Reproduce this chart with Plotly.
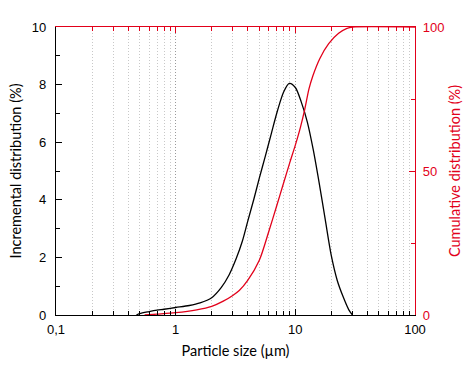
import plotly.graph_objects as go

# Incremental distribution (%) vs particle size (µm)
size_inc = [0.47, 0.5, 0.6, 0.7, 0.8, 1.0, 1.3, 1.6, 2.0, 2.4, 2.8, 3.2, 3.6, 4.0, 4.5,
            5.0, 5.6, 6.3, 7.1, 8.0, 8.9, 10.0, 11.2, 12.6, 14.1, 15.8, 17.8, 20.0,
            22.4, 25.0, 28.0, 30.0]
incremental = [0.0, 0.05, 0.12, 0.17, 0.2, 0.26, 0.33, 0.42, 0.6, 0.95, 1.4, 1.95, 2.55, 3.25, 4.02,
               4.75, 5.5, 6.3, 7.1, 7.75, 8.04, 7.9, 7.4, 6.7, 5.75, 4.6, 3.3, 2.05,
               1.2, 0.65, 0.18, 0.0]

# Cumulative distribution (%) vs particle size (µm)
size_cum = [0.55, 0.7, 1.0, 1.5, 2.0, 2.5, 3.0, 3.4, 4.0, 5.0, 6.0, 7.0, 8.0, 9.0, 10.0,
            11.0, 12.0, 13.0, 14.0, 16.0, 19.0, 23.0, 27.0, 30.0, 100.0]
cumulative = [0.0, 0.3, 0.8, 1.8, 3.0, 4.8, 6.8, 8.5, 12.0, 19.0, 29.0, 38.0, 46.0, 53.0, 59.0,
              65.0, 71.5, 78.5, 83.0, 89.0, 94.2, 97.8, 99.5, 100.0, 100.0]

x_tickvals = [0.1, 1, 10, 100]
x_ticktext = ["0,1", "1", "10", "100"]
x_minor = [0.2, 0.3, 0.4, 0.5, 0.6, 0.7, 0.8, 0.9,
           2, 3, 4, 5, 6, 7, 8, 9,
           20, 30, 40, 50, 60, 70, 80, 90]
y_tickvals = [0, 2, 4, 6, 8, 10]
y_minor = [1, 3, 5, 7, 9]
y2_tickvals = [0, 50, 100]
y2_minor = [25, 75]

RED = "#e2001a"
TICKFONT = dict(family="Liberation Sans, Arial", size=13, color="black")
TITLEFONT = dict(family="Lato, Open Sans", size=14.5, color="black")

fig = go.Figure()
fig.add_trace(go.Scatter(x=size_inc, y=incremental, mode="lines",
                         line=dict(color="black", width=1.3, shape="spline", smoothing=0.8),
                         xaxis="x", yaxis="y", showlegend=False))
fig.add_trace(go.Scatter(x=size_cum, y=cumulative, mode="lines",
                         line=dict(color=RED, width=1.3, shape="spline", smoothing=0.8),
                         xaxis="x2", yaxis="y2", showlegend=False))

fig.update_layout(
    width=474, height=372,
    margin=dict(l=56, r=59, t=27, b=57),
    paper_bgcolor="white", plot_bgcolor="white",
    xaxis=dict(type="log", range=[-1, 2], tickvals=x_tickvals, ticktext=x_ticktext,
               ticks="inside", ticklen=6, tickcolor="black", tickfont=TICKFONT,
               showline=True, linecolor="black", linewidth=1.3, automargin=False,
               showgrid=True, gridcolor="#9a9a9a", griddash="1px,2px", gridwidth=1,
               zeroline=False, ticklabelstandoff=2,
               minor=dict(tickvals=x_minor, ticks="inside", ticklen=4, tickcolor="black",
                          showgrid=True, gridcolor="#c8c8c8", griddash="1px,2px", gridwidth=1),
               title=dict(text="Particle size (µm)", font=TITLEFONT, standoff=10)),
    xaxis2=dict(type="log", range=[-1, 2], overlaying="x", side="top",
                tickvals=x_tickvals, showticklabels=False, automargin=False,
                ticks="inside", ticklen=6, tickcolor=RED,
                showline=True, linecolor=RED, linewidth=1.3,
                showgrid=False, zeroline=False,
                minor=dict(tickvals=x_minor, ticks="inside", ticklen=4, tickcolor=RED,
                           showgrid=False)),
    yaxis=dict(range=[0, 10], tickvals=y_tickvals, ticks="inside", ticklen=6,
               tickcolor="black", tickfont=TICKFONT, automargin=False,
               showline=True, linecolor="black", linewidth=1.3, ticklabelstandoff=6,
               showgrid=False, zeroline=False,
               minor=dict(tickvals=y_minor, ticks="inside", ticklen=4, tickcolor="black",
                          showgrid=False),
               title=dict(text="Incremental distribution (%)", font=TITLEFONT, standoff=6)),
    yaxis2=dict(range=[0, 100], overlaying="y", side="right", tickvals=y2_tickvals,
                ticks="inside", ticklen=6, tickcolor=RED, automargin=False,
                tickfont=dict(family="Liberation Sans, Arial", size=13, color=RED),
                showline=True, linecolor=RED, linewidth=1.3, ticklabelstandoff=4,
                showgrid=False, zeroline=False,
                minor=dict(tickvals=y2_minor, ticks="inside", ticklen=4, tickcolor=RED,
                           showgrid=False),
                title=dict(text="Cumulative distribution (%)",
                           font=dict(family="Lato, Open Sans", size=14.5, color=RED),
                           standoff=6)),
)

fig.write_html("out.html", config={"displayModeBar": False},
               post_script="document.body.style.margin='0';")
